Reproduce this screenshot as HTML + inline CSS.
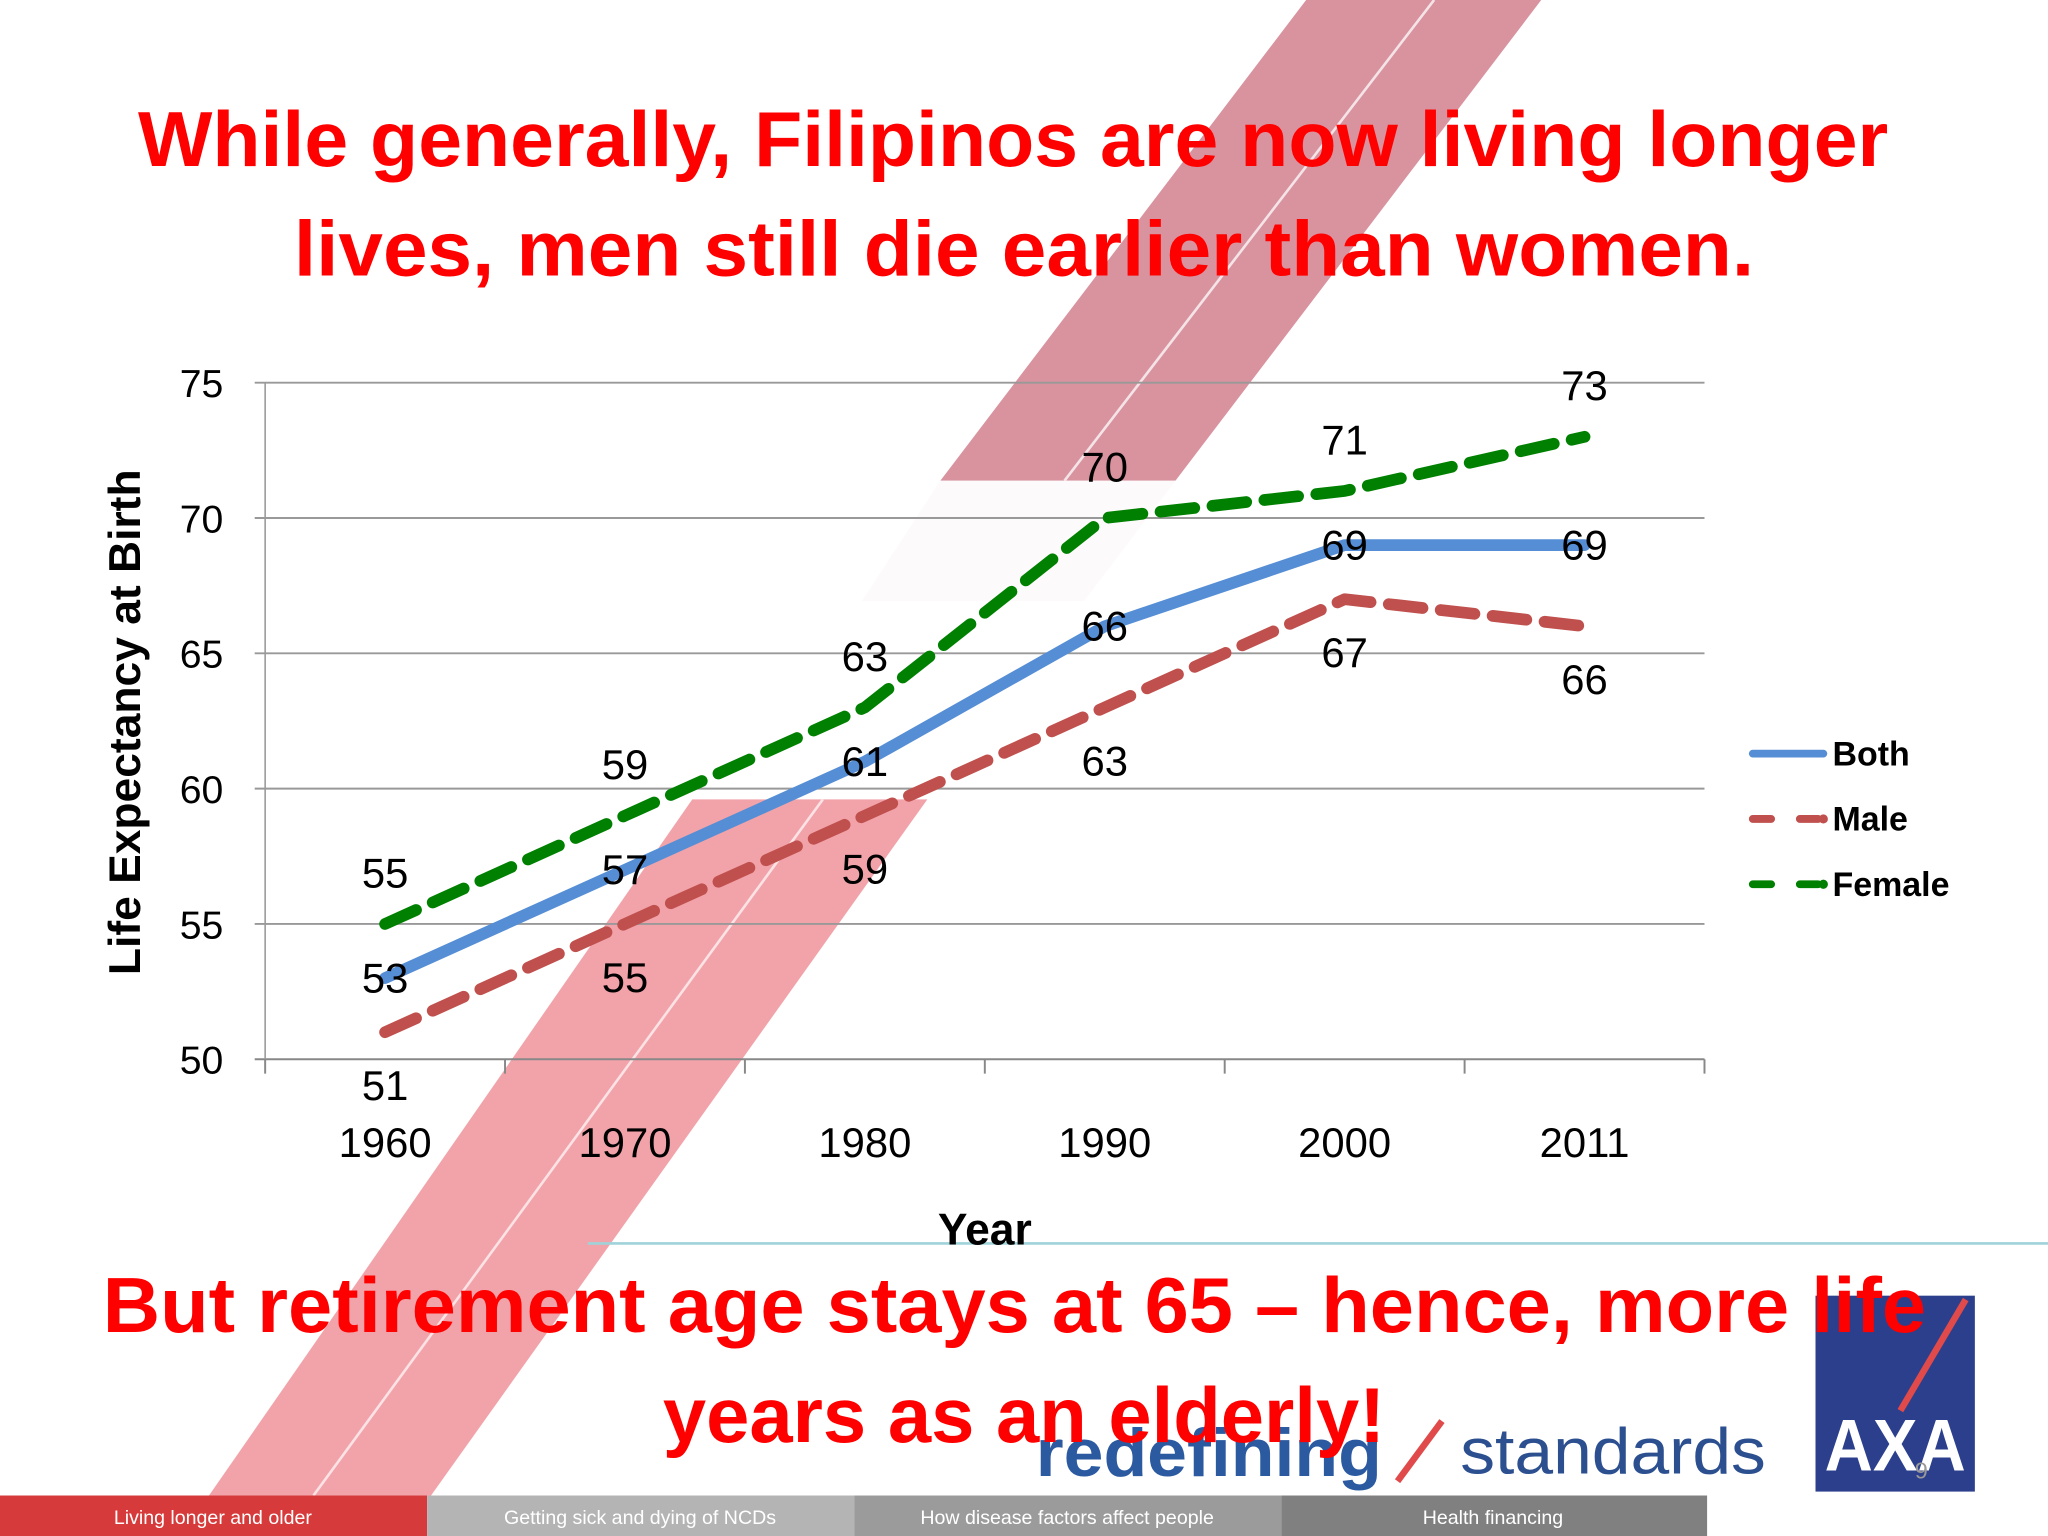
<!DOCTYPE html>
<html><head><meta charset="utf-8"><style>
html,body{margin:0;padding:0;background:#fff;}
svg{display:block;}
text{font-family:"Liberation Sans",sans-serif;}
</style></head><body>
<svg id="chart" width="2048" height="1536" viewBox="0 0 1568 1176" preserveAspectRatio="none" xmlns="http://www.w3.org/2000/svg">
<rect width="1568" height="1176" fill="#fff"/>
<g>
<polygon points="1000,0 1180,0 900,368 720,368" fill="#d8939f"/>
<line x1="1098" y1="0" x2="815" y2="368" stroke="#f4e4e7" stroke-width="2"/>
<polygon points="720,368 900,368 830,460 660,460" fill="#fbf6f7" opacity="0.5"/>
<polygon points="530,612 710,612 330,1145 160,1145" fill="#f2a3aa"/>
<line x1="630" y1="612" x2="240" y2="1145" stroke="#fbe3e5" stroke-width="2"/>
<line x1="450" y1="952" x2="1568" y2="952" stroke="#9fd3d9" stroke-width="2"/>
</g>
<text fill="#ff0000" font-weight="bold" font-size="60" text-anchor="middle">
<tspan x="784" y="127" textLength="1340" lengthAdjust="spacingAndGlyphs">While generally, Filipinos are now living longer</tspan>
<tspan x="784" y="211" textLength="1118" lengthAdjust="spacingAndGlyphs">lives, men still die earlier than women.</tspan>
</text>
<g id="plot"></g>
<g>
<g><line x1="1342" y1="577" x2="1396" y2="577" stroke="#558ed5" stroke-width="6" stroke-linecap="round"/><text x="1403" y="586" font-size="26" font-weight="bold">Both</text></g>
<g><line x1="1342" y1="627" x2="1396" y2="627" stroke="#c0504d" stroke-width="6" stroke-linecap="round" stroke-dasharray="14,22"/><circle cx="1396" cy="627" r="3.5" fill="#c0504d"/><text x="1403" y="636" font-size="26" font-weight="bold">Male</text></g>
<g><line x1="1342" y1="677" x2="1396" y2="677" stroke="#008000" stroke-width="6" stroke-linecap="round" stroke-dasharray="14,22"/><circle cx="1396" cy="677" r="3.5" fill="#008000"/><text x="1403" y="686" font-size="26" font-weight="bold">Female</text></g>
</g>
<g>
<text x="793" y="1130" font-size="52" font-weight="bold" fill="#2b5aa0" textLength="265" lengthAdjust="spacingAndGlyphs">redefining</text>
<line x1="1070" y1="1134" x2="1104" y2="1088" stroke="#e04a4a" stroke-width="5"/>
<text x="1118" y="1128" font-size="50" fill="#2b4f8f" textLength="234" lengthAdjust="spacingAndGlyphs">standards</text>
<rect x="1390" y="992" width="122" height="150" fill="#2b3f8c"/>
<line x1="1505" y1="995" x2="1455" y2="1080" stroke="#e04a4a" stroke-width="5"/>
<text x="1451" y="1126" font-size="56" font-weight="bold" fill="#fff" text-anchor="middle" textLength="108" lengthAdjust="spacingAndGlyphs">AXA</text>
<text x="1466" y="1132" font-size="18" fill="#999">9</text>
</g>
<text fill="#ff0000" font-weight="bold" font-size="60" text-anchor="middle">
<tspan x="785" y="1020" textLength="1396" lengthAdjust="spacingAndGlyphs">But retirement age stays at 65 – hence, more life</tspan>
<tspan x="784" y="1104" textLength="553" lengthAdjust="spacingAndGlyphs">years as an elderly!</tspan>
</text>
<g>
<rect x="0" y="1145" width="327" height="31" fill="#d63a3a"/>
<rect x="327" y="1145" width="327" height="31" fill="#b4b4b4"/>
<rect x="654" y="1145" width="327" height="31" fill="#9b9b9b"/>
<rect x="981" y="1145" width="326" height="31" fill="#808080"/>
<text x="163" y="1167" font-size="15" fill="#fff" text-anchor="middle">Living longer and older</text>
<text x="490" y="1167" font-size="15" fill="#fff" text-anchor="middle">Getting sick and dying of NCDs</text>
<text x="817" y="1167" font-size="15" fill="#fff" text-anchor="middle">How disease factors affect people</text>
<text x="1143" y="1167" font-size="15" fill="#fff" text-anchor="middle">Health financing</text>
</g>
</svg>
<script>
const categories = ["1960","1970","1980","1990","2000","2011"];
const bothValues = [53,57,61,66,69,69];
const maleValues = [51,55,59,63,67,66];
const femaleValues = [55,59,63,70,71,73];
const yTicks = [50,55,60,65,70,75];

const NS = "http://www.w3.org/2000/svg";
const plot = document.getElementById('plot');


const X0 = 203, X1 = 1305, Y0 = 811, Y1 = 293, YMIN = 50, YMAX = 75;
const band = (X1 - X0) / categories.length;
const xPos = i => X0 + band * (i + 0.5);
const yPos = v => Y0 - (v - YMIN) / (YMAX - YMIN) * (Y0 - Y1);
function mk(tag, attrs, parent) {
  const e = document.createElementNS(NS, tag);
  for (const k in attrs) e.setAttribute(k, attrs[k]);
  (parent || plot).appendChild(e);
  return e;
}
yTicks.forEach(t => {
  const g = mk('line', {x1: X0 - 8, x2: X1, y1: yPos(t), y2: yPos(t), stroke: t === YMIN ? '#888' : '#999', 'stroke-width': 1.5});
  
  
  const tx = mk('text', {x: 171, y: yPos(t) + 11, 'font-size': 30, 'text-anchor': 'end'});
  tx.textContent = t;
  
  
});
const ax = mk('line', {x1: X0, x2: X0, y1: Y1, y2: Y0, stroke: '#999', 'stroke-width': 1.2});


for (let i = 0; i <= categories.length; i++) {
  const tk = mk('line', {x1: X0 + band * i, x2: X0 + band * i, y1: Y0, y2: Y0 + 11, stroke: '#888', 'stroke-width': 1.5});
  
  
}
categories.forEach((c, i) => {
  const t = mk('text', {x: xPos(i), y: 886, 'font-size': 32, 'text-anchor': 'middle'});
  t.textContent = c;
  
  
});
const xt = mk('text', {x: 754, y: 953, 'font-size': 34, 'font-weight': 'bold', 'text-anchor': 'middle'});
xt.textContent = 'Year';


const yt = mk('text', {x: 0, y: 0, 'font-size': 34, 'font-weight': 'bold', 'text-anchor': 'middle', transform: 'translate(107,553) rotate(-90)'});
yt.textContent = 'Life Expectancy at Birth';



const series = [
  {name: 'male', vals: maleValues, color: '#c0504d', dash: '26,14', off: 52},
  {name: 'female', vals: femaleValues, color: '#008000', dash: '26,14', off: -28},
  {name: 'both', vals: bothValues, color: '#558ed5', dash: '', off: 11}
];
series.forEach(s => {
  const pts = s.vals.map((v, i) => xPos(i) + ',' + yPos(v)).join(' ');
  const pl = mk('polyline', {points: pts, fill: 'none', stroke: s.color, 'stroke-width': 9, 'stroke-linecap': 'round', 'stroke-linejoin': 'round'});
  if (s.dash) pl.setAttribute('stroke-dasharray', s.dash);
  
  
});
series.forEach(s => {
  s.vals.forEach((v, i) => {
    const t = mk('text', {x: xPos(i), y: yPos(v) + s.off, 'font-size': 32, 'text-anchor': 'middle'});
    t.textContent = v;
    
    
  });
});
</script>
</body></html>
